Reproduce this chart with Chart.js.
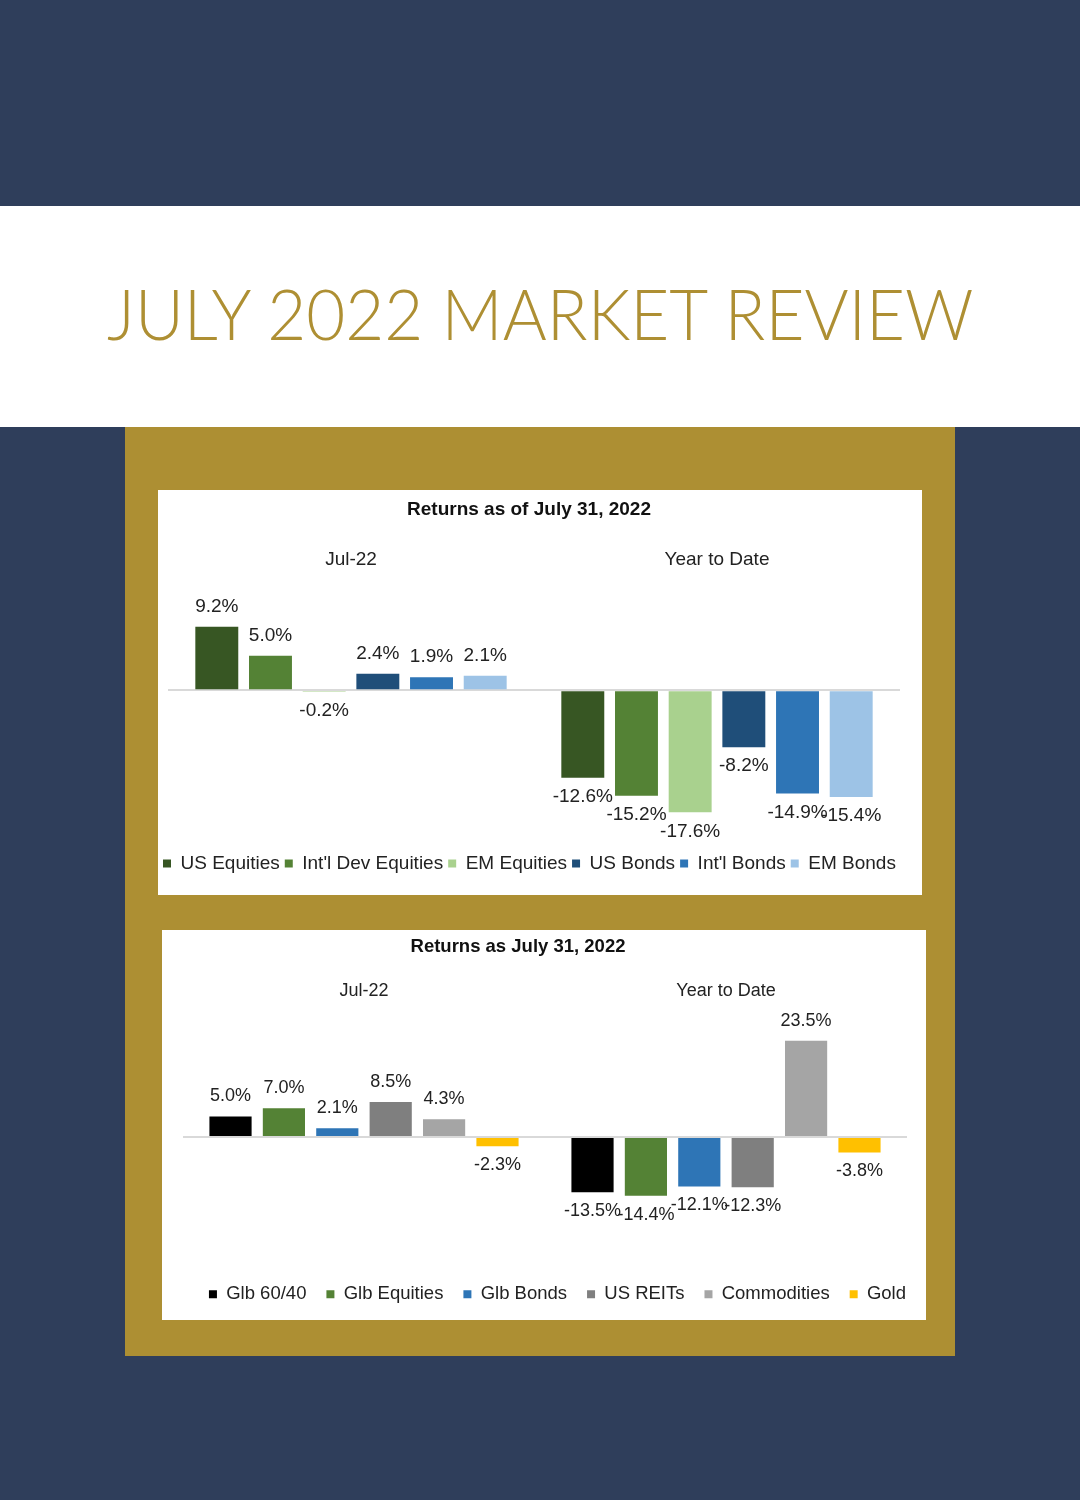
<!DOCTYPE html>
<html>
<head>
<meta charset="utf-8">
<script src="https://cdn.jsdelivr.net/npm/chart.js@4.4.1/dist/chart.umd.min.js"></script>
<style>
  body { margin: 0; width: 1080px; height: 1500px; background: #2f3e5b; position: relative; overflow: hidden; }
  .band { position: absolute; left: 0; top: 206px; width: 1080px; height: 221px; background: #fff; }
  .heading { position: absolute; left: 0; top: 277px; width: 1080px; text-align: center; font-family: Lato, "Open Sans", sans-serif; font-weight: 300; font-size: 71px; line-height: 1; color: #ae8f33; white-space: nowrap; }
  .heading span { display: inline-block; transform-origin: center; }
  .goldbox { position: absolute; left: 125px; top: 427px; width: 830px; height: 929px; background: #ad8f33; }
  .panel { position: absolute; background: #fff; }
  .panel canvas { position: absolute; left: 0; top: 0; }
  .ptitle { position: absolute; font: bold 19px "Liberation Sans", Arial, sans-serif; color: #111; white-space: nowrap; transform: translate(-50%, -50%); }
  #p1 { left: 158px; top: 490px; width: 764px; height: 405px; }
  #p2 { left: 162px; top: 930px; width: 764px; height: 390px; }
</style>
</head>
<body>
<div class="band"></div>
<div class="heading"><span id="headText">JULY 2022 MARKET REVIEW</span></div>
<div class="goldbox"></div>
<div class="panel" id="p1">
  <canvas id="chart1" width="764" height="405"></canvas>
  <div class="ptitle" style="left:371px; top:19px;">Returns as of July 31, 2022</div>
</div>
<div class="panel" id="p2">
  <canvas id="chart2" width="764" height="390"></canvas>
  <div class="ptitle" style="left:356px; top:16px; font-size:18.5px;">Returns as July 31, 2022</div>
</div>
<script>
// fit heading width to the reference
const head = document.getElementById('headText');
head.style.transform = 'scaleX(' + (866 / head.offsetWidth) + ')';

const categories = ['Jul-22', 'Year to Date'];

// chart 1
const usEquities = [9.2, -12.6];
const intlDevEquities = [5.0, -15.2];
const emEquities = [-0.2, -17.6];
const usBonds = [2.4, -8.2];
const intlBonds = [1.9, -14.9];
const emBonds = [2.1, -15.4];

// chart 2
const glb6040 = [5.0, -13.5];
const glbEquities = [7.0, -14.4];
const glbBonds = [2.1, -12.1];
const usReits = [8.5, -12.3];
const commodities = [4.3, 23.5];
const gold = [-2.3, -3.8];

const FONT = '"Liberation Sans", Arial, sans-serif';
Chart.defaults.font.family = FONT;
Chart.defaults.color = '#222';

const barLabels = {
  id: 'barLabels',
  afterDatasetsDraw(chart, args, opts) {
    const ctx = chart.ctx;
    ctx.save();
    ctx.font = opts.size + 'px ' + FONT;
    ctx.fillStyle = '#222';
    ctx.textAlign = 'center';
    ctx.textBaseline = 'middle';
    chart.data.datasets.forEach((ds, i) => {
      chart.getDatasetMeta(i).data.forEach((bar, j) => {
        const v = ds.data[j];
        const y = v >= 0 ? bar.y - 20 : bar.y + 19;
        ctx.fillText(v.toFixed(1) + '%', bar.x, y);
      });
    });
    ctx.restore();
  }
};

function makeChart(id, cfg) {
  const datasets = cfg.series.map(s => ({
    label: s[0],
    data: s[1],
    backgroundColor: s[2],
    categoryPercentage: cfg.catPct,
    barPercentage: cfg.barPct
  }));
  return new Chart(document.getElementById(id), {
    type: 'bar',
    data: { labels: categories, datasets: datasets },
    plugins: [barLabels],
    options: {
      responsive: false,
      animation: false,
      layout: { padding: { top: cfg.topPad, bottom: cfg.bottomPad, left: 0, right: 0 } },
      plugins: {
        legend: {
          position: 'bottom',
          align: cfg.legendAlign,
          labels: {
            boxWidth: 8,
            boxHeight: 8,
            padding: cfg.legendPad,
            color: '#222',
            font: { size: cfg.legendSize }
          }
        },
        tooltip: { enabled: false },
        barLabels: { size: cfg.labelSize }
      },
      scales: {
        x: {
          position: 'top',
          grid: { display: false, drawTicks: false },
          border: { display: false },
          ticks: { padding: cfg.tickPad, color: '#222', font: { size: cfg.tickSize } }
        },
        y: {
          min: cfg.min,
          max: cfg.max,
          afterFit: s => { s.width = cfg.left; },
          border: { display: false },
          ticks: { display: false, stepSize: 0.1 },
          grid: {
            drawTicks: false,
            lineWidth: 2,
            color: c => c.tick && Math.abs(c.tick.value) < 1e-9 ? '#d9d9d9' : 'rgba(0,0,0,0)'
          }
        },
        yRight: {
          position: 'right',
          afterFit: s => { s.width = cfg.right; },
          border: { display: false },
          ticks: { display: false },
          grid: { display: false }
        }
      }
    }
  });
}

makeChart('chart1', {
  series: [
    ['US Equities', usEquities, '#375623'],
    ["Int'l Dev Equities", intlDevEquities, '#548235'],
    ['EM Equities', emEquities, '#a9d18e'],
    ['US Bonds', usBonds, '#1f4e79'],
    ["Int'l Bonds", intlBonds, '#2e75b6'],
    ['EM Bonds', emBonds, '#9dc3e6']
  ],
  catPct: 0.88, barPct: 0.80,
  min: -22.9, max: 11.6,
  left: 10, right: 22,
  topPad: 20, tickPad: 38.6, tickSize: 19,
  labelSize: 19, legendSize: 19, legendPad: 5, legendAlign: 'start',
  bottomPad: 12
});

makeChart('chart2', {
  series: [
    ['Glb 60/40', glb6040, '#000000'],
    ['Glb Equities', glbEquities, '#548235'],
    ['Glb Bonds', glbBonds, '#2e75b6'],
    ['US REITs', usReits, '#7f7f7f'],
    ['Commodities', commodities, '#a5a5a5'],
    ['Gold', gold, '#ffc000']
  ],
  catPct: 0.885, barPct: 0.79,
  min: -31.3, max: 24.4,
  left: 21, right: 19,
  topPad: 15, tickPad: 35.2, tickSize: 18,
  labelSize: 18, legendSize: 18.5, legendPad: 20, legendAlign: 'end',
  bottomPad: 6.5
});
</script>
</body>
</html>
